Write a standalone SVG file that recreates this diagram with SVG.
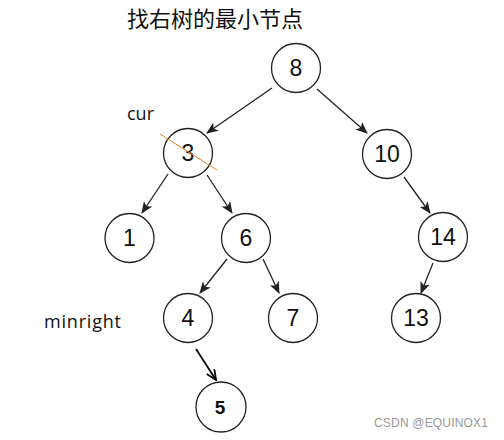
<svg xmlns="http://www.w3.org/2000/svg" width="504" height="440" viewBox="0 0 504 440">
<style>
.node circle{fill:#fff;stroke:#222;stroke-width:1.3}
.node text{font-family:"Liberation Sans",Arial,sans-serif;font-size:23px;fill:#111;text-anchor:middle}
.edge{stroke:#222;stroke-width:1.3;fill:none;marker-end:url(#arr)}
.label{font-family:"Open Sans","Liberation Sans",sans-serif;font-size:18px;fill:#111}
</style>
<defs>
<marker id="arr" viewBox="0 0 12 10" refX="11" refY="5" markerWidth="12" markerHeight="10" markerUnits="userSpaceOnUse" orient="auto">
<path d="M0,0 L12,5 L0,10 L3,5 Z" fill="#222"/>
</marker>
<marker id="arr2" viewBox="0 0 12 10" refX="11" refY="5" markerWidth="12" markerHeight="10" markerUnits="userSpaceOnUse" orient="auto">
<path d="M1,0.5 L11,5 L1,9.5" fill="none" stroke="#000" stroke-width="1.8"/>
</marker>
</defs>
<rect width="504" height="440" fill="#fff"/>
<text x="127" y="27" font-family="'Noto Sans CJK SC',sans-serif" font-size="22" fill="#111">找右树的最小节点</text>
<g id="connectors">
<line class="edge" x1="272" y1="88" x2="207" y2="133"/>
<line class="edge" x1="317" y1="89" x2="367" y2="133"/>
<line class="edge" x1="168" y1="174" x2="142" y2="213"/>
<line class="edge" x1="207" y1="175" x2="232" y2="213"/>
<line class="edge" x1="227" y1="259" x2="200" y2="293"/>
<line class="edge" x1="263" y1="259" x2="279" y2="293"/>
<line class="edge" x1="404" y1="177" x2="430" y2="213"/>
<line class="edge" x1="433" y1="263" x2="421" y2="293"/>
<line x1="196" y1="349" x2="216" y2="380" stroke="#000" stroke-width="1.8" marker-end="url(#arr2)"/>
</g>
<g id="node8" class="node"><circle cx="296" cy="68" r="24.5"/><text x="296" y="76">8</text></g>
<g id="node3" class="node"><circle cx="188" cy="153" r="24.5"/><text x="188" y="161">3</text></g>
<g id="node10" class="node"><circle cx="387" cy="154" r="24.5"/><text x="387" y="162">10</text></g>
<g id="node1" class="node"><circle cx="129.5" cy="238" r="24.5"/><text x="129.5" y="246">1</text></g>
<g id="node6" class="node"><circle cx="246" cy="238" r="24.5"/><text x="246" y="246">6</text></g>
<g id="node14" class="node"><circle cx="443" cy="237" r="24.5"/><text x="443" y="245">14</text></g>
<g id="node4" class="node"><circle cx="188" cy="318" r="24.5"/><text x="188" y="326">4</text></g>
<g id="node7" class="node"><circle cx="293" cy="318" r="24.5"/><text x="293" y="326">7</text></g>
<g id="node13" class="node"><circle cx="416" cy="318" r="24.5"/><text x="416" y="326">13</text></g>
<g id="node5" class="node"><circle cx="221" cy="407" r="25"/><text x="220" y="414" style="font-size:19px;font-weight:bold">5</text></g>
<line x1="160" y1="134" x2="217" y2="170" stroke="#E8822A" stroke-width="1"/>
<text class="label" x="127" y="120">cur</text>
<text class="label" x="44" y="328" textLength="77">minright</text>
<text x="374" y="427" font-family="'Liberation Sans',Arial,sans-serif" font-size="12" fill="#999" textLength="114">CSDN @EQUINOX1</text>
</svg>
